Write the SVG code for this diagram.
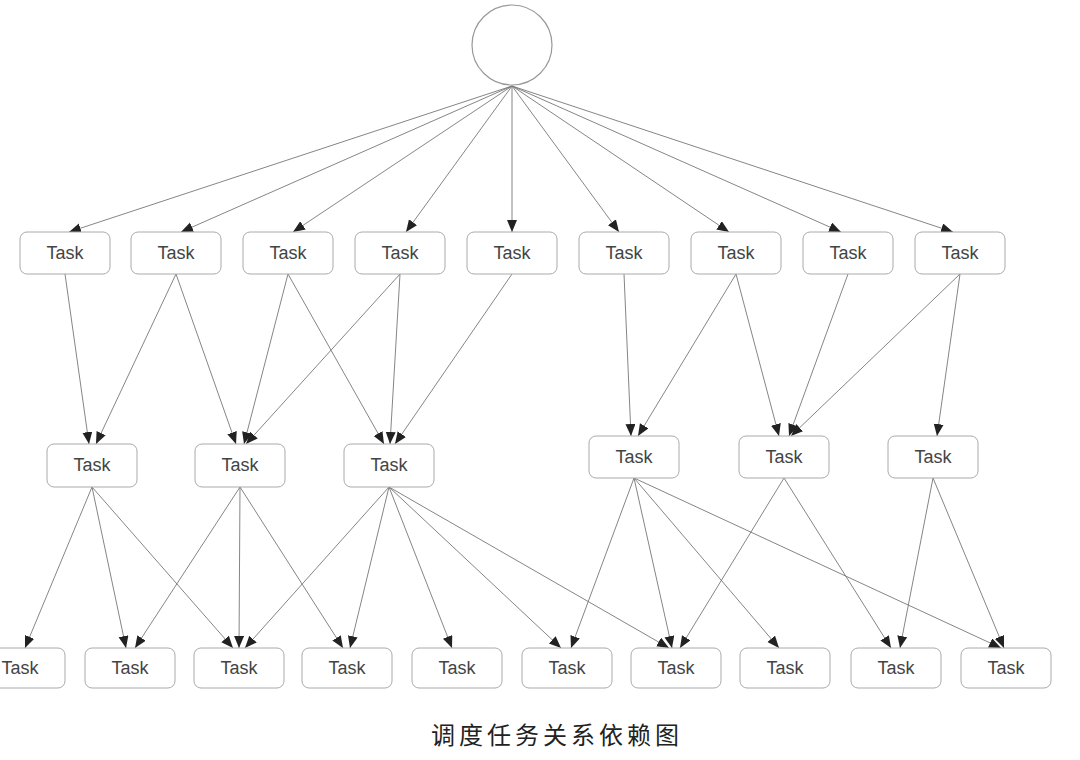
<svg xmlns="http://www.w3.org/2000/svg" width="1080" height="760" viewBox="0 0 1080 760">
<defs>
<marker id="arr" markerUnits="userSpaceOnUse" markerWidth="13" markerHeight="11" refX="12" refY="5" orient="auto">
<path d="M0,0 L12,5 L0,10 z" fill="#222"/>
</marker>
<style>
.box{fill:#fff;stroke:#aaa;stroke-width:1;}
.lbl{font-family:"Liberation Sans",Arial,sans-serif;font-size:18px;fill:#444;text-anchor:middle;}
.e{stroke:#777;stroke-width:0.9;fill:none;marker-end:url(#arr);}
.root{fill:#fff;stroke:#999;stroke-width:1.2;}
.cap{font-family:"Noto Sans CJK SC",sans-serif;font-size:24px;fill:#222;text-anchor:middle;letter-spacing:4px;}
</style>
</defs>
<rect width="1080" height="760" fill="#fff"/>

<g id="connectors">
<!-- root to row 1 -->
<line class="e" x1="512" y1="86" x2="69" y2="232"/>
<line class="e" x1="512" y1="86" x2="181" y2="232"/>
<line class="e" x1="512" y1="86" x2="293" y2="232"/>
<line class="e" x1="512" y1="86" x2="406" y2="232"/>
<line class="e" x1="512" y1="86" x2="512" y2="232"/>
<line class="e" x1="512" y1="86" x2="619" y2="232"/>
<line class="e" x1="512" y1="86" x2="729" y2="232"/>
<line class="e" x1="512" y1="86" x2="841" y2="232"/>
<line class="e" x1="512" y1="86" x2="953" y2="232"/>
<!-- row 1 to row 2 -->
<line class="e" x1="65" y1="274" x2="89" y2="444"/>
<line class="e" x1="176" y1="274" x2="96" y2="444"/>
<line class="e" x1="176" y1="274" x2="236" y2="444"/>
<line class="e" x1="288" y1="274" x2="244" y2="444"/>
<line class="e" x1="400" y1="274" x2="246" y2="444"/>
<line class="e" x1="288" y1="274" x2="384" y2="444"/>
<line class="e" x1="400" y1="274" x2="390" y2="444"/>
<line class="e" x1="512" y1="274" x2="395" y2="444"/>
<line class="e" x1="624" y1="274" x2="631" y2="436"/>
<line class="e" x1="736" y1="274" x2="638" y2="436"/>
<line class="e" x1="736" y1="274" x2="779" y2="436"/>
<line class="e" x1="848" y1="274" x2="789" y2="436"/>
<line class="e" x1="960" y1="274" x2="791" y2="436"/>
<line class="e" x1="960" y1="274" x2="937" y2="436"/>
<!-- row 2 to row 3 -->
<line class="e" x1="92" y1="487" x2="25" y2="648"/>
<line class="e" x1="92" y1="487" x2="126" y2="648"/>
<line class="e" x1="92" y1="487" x2="233" y2="648"/>
<line class="e" x1="240" y1="487" x2="135" y2="648"/>
<line class="e" x1="240" y1="487" x2="239" y2="648"/>
<line class="e" x1="240" y1="487" x2="343" y2="648"/>
<line class="e" x1="389" y1="487" x2="245" y2="648"/>
<line class="e" x1="389" y1="487" x2="350" y2="648"/>
<line class="e" x1="389" y1="487" x2="452" y2="648"/>
<line class="e" x1="389" y1="487" x2="561" y2="648"/>
<line class="e" x1="389" y1="487" x2="669" y2="648"/>
<line class="e" x1="634" y1="478" x2="571" y2="648"/>
<line class="e" x1="634" y1="478" x2="672" y2="648"/>
<line class="e" x1="634" y1="478" x2="779" y2="648"/>
<line class="e" x1="634" y1="478" x2="1001" y2="648"/>
<line class="e" x1="784" y1="478" x2="680" y2="648"/>
<line class="e" x1="784" y1="478" x2="891" y2="648"/>
<line class="e" x1="933" y1="478" x2="900" y2="648"/>
<line class="e" x1="933" y1="478" x2="1004" y2="648"/>
</g>

<g id="root"><circle class="root" cx="512" cy="45" r="40"/></g>

<g id="t1"><rect class="box" x="20" y="232" width="90" height="42" rx="7"/><text class="lbl" x="65" y="259">Task</text></g>
<g id="t2"><rect class="box" x="131" y="232" width="90" height="42" rx="7"/><text class="lbl" x="176" y="259">Task</text></g>
<g id="t3"><rect class="box" x="243" y="232" width="90" height="42" rx="7"/><text class="lbl" x="288" y="259">Task</text></g>
<g id="t4"><rect class="box" x="355" y="232" width="90" height="42" rx="7"/><text class="lbl" x="400" y="259">Task</text></g>
<g id="t5"><rect class="box" x="467" y="232" width="90" height="42" rx="7"/><text class="lbl" x="512" y="259">Task</text></g>
<g id="t6"><rect class="box" x="579" y="232" width="90" height="42" rx="7"/><text class="lbl" x="624" y="259">Task</text></g>
<g id="t7"><rect class="box" x="691" y="232" width="90" height="42" rx="7"/><text class="lbl" x="736" y="259">Task</text></g>
<g id="t8"><rect class="box" x="803" y="232" width="90" height="42" rx="7"/><text class="lbl" x="848" y="259">Task</text></g>
<g id="t9"><rect class="box" x="915" y="232" width="90" height="42" rx="7"/><text class="lbl" x="960" y="259">Task</text></g>

<g id="m1"><rect class="box" x="47" y="444" width="90" height="43" rx="7"/><text class="lbl" x="92" y="471">Task</text></g>
<g id="m2"><rect class="box" x="195" y="444" width="90" height="43" rx="7"/><text class="lbl" x="240" y="471">Task</text></g>
<g id="m3"><rect class="box" x="344" y="444" width="90" height="43" rx="7"/><text class="lbl" x="389" y="471">Task</text></g>
<g id="m4"><rect class="box" x="589" y="436" width="90" height="42" rx="7"/><text class="lbl" x="634" y="463">Task</text></g>
<g id="m5"><rect class="box" x="739" y="436" width="90" height="42" rx="7"/><text class="lbl" x="784" y="463">Task</text></g>
<g id="m6"><rect class="box" x="888" y="436" width="90" height="42" rx="7"/><text class="lbl" x="933" y="463">Task</text></g>

<g id="b1"><rect class="box" x="-25" y="648" width="90" height="40" rx="7"/><text class="lbl" x="20" y="674">Task</text></g>
<g id="b2"><rect class="box" x="85" y="648" width="90" height="40" rx="7"/><text class="lbl" x="130" y="674">Task</text></g>
<g id="b3"><rect class="box" x="194" y="648" width="90" height="40" rx="7"/><text class="lbl" x="239" y="674">Task</text></g>
<g id="b4"><rect class="box" x="302" y="648" width="90" height="40" rx="7"/><text class="lbl" x="347" y="674">Task</text></g>
<g id="b5"><rect class="box" x="412" y="648" width="90" height="40" rx="7"/><text class="lbl" x="457" y="674">Task</text></g>
<g id="b6"><rect class="box" x="522" y="648" width="90" height="40" rx="7"/><text class="lbl" x="567" y="674">Task</text></g>
<g id="b7"><rect class="box" x="631" y="648" width="90" height="40" rx="7"/><text class="lbl" x="676" y="674">Task</text></g>
<g id="b8"><rect class="box" x="740" y="648" width="90" height="40" rx="7"/><text class="lbl" x="785" y="674">Task</text></g>
<g id="b9"><rect class="box" x="851" y="648" width="90" height="40" rx="7"/><text class="lbl" x="896" y="674">Task</text></g>
<g id="b10"><rect class="box" x="961" y="648" width="90" height="40" rx="7"/><text class="lbl" x="1006" y="674">Task</text></g>

<g id="caption"><text class="cap" x="557" y="744">调度任务关系依赖图</text></g>
</svg>
